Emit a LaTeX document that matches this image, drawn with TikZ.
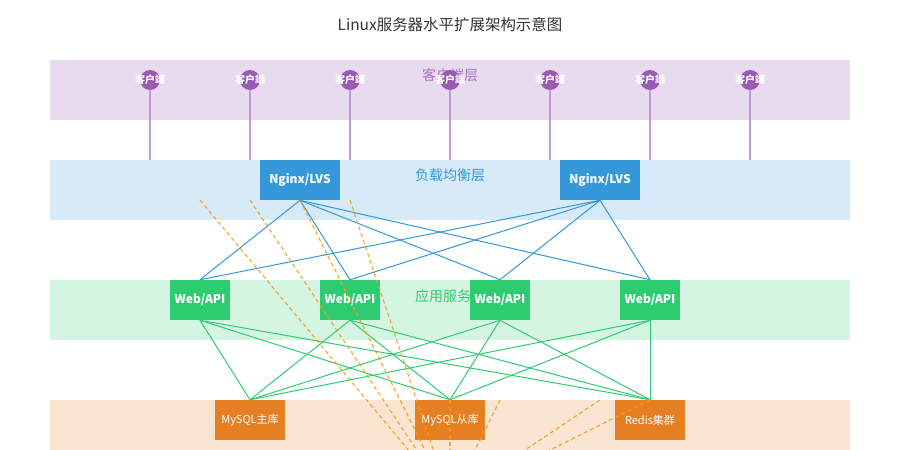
\documentclass[tikz,border=0pt]{standalone}
\usepackage{fontspec}
\setmainfont{Noto Sans CJK SC}
\usetikzlibrary{positioning}

\definecolor{clientband}{HTML}{E8DAEF}
\definecolor{lbband}{HTML}{D6EAF8}
\definecolor{appband}{HTML}{D5F5E3}
\definecolor{dbband}{HTML}{FAE5D3}
\definecolor{clientnode}{HTML}{9B59B6}
\definecolor{clientline}{HTML}{C39BD3}
\definecolor{lbnode}{HTML}{3498DB}
\definecolor{appnode}{HTML}{2ECC71}
\definecolor{dbnode}{HTML}{E67E22}
\definecolor{monline}{HTML}{F39C12}
\definecolor{titlegray}{HTML}{333333}

\begin{document}
\begin{tikzpicture}[x=0.75pt,y=-0.75pt,
	band/.style={fill=#1,draw=none},
	layerlabel/.style={font=\fontsize{10.5}{12}\selectfont,text=#1},
	client/.style={circle,fill=clientnode,minimum size=15pt,inner sep=0pt},
	clienttext/.style={text=white,font=\fontsize{7.5}{8}\selectfont\bfseries,inner sep=0pt},
	box/.style={fill=#1,minimum height=30pt,inner sep=0pt,text=white},
	lbbox/.style={box=lbnode,minimum width=60pt,font=\fontsize{9}{10}\selectfont\bfseries},
	appbox/.style={box=appnode,minimum width=45pt,font=\fontsize{9}{10}\selectfont\bfseries},
	dbbox/.style={box=dbnode,minimum width=52.5pt,font=\fontsize{8.25}{9}\selectfont},
	monitor/.style={monline,line width=0.9pt,dash pattern=on 3pt off 2.25pt,opacity=0.85}
	]

	\useasboundingbox (0,0) rectangle (900,450);
	\clip (0,0) rectangle (900,450);

	% Title
	\node[font=\fontsize{11.6}{13}\selectfont,text=titlegray] (title) at (450,25) {Linux服务器水平扩展架构示意图};

	% Layer bands
	\fill[band=clientband] (50,60) rectangle (850,120);
	\fill[band=lbband] (50,160) rectangle (850,220);
	\fill[band=appband] (50,280) rectangle (850,340);
	\fill[band=dbband] (50,400) rectangle (850,450);

	% Layer labels
	\node[layerlabel=clientnode!85] (clientlabel) at (450,75) {客户端层};
	\node[layerlabel=lbnode] (lblabel) at (450,175) {负载均衡层};
	\node[layerlabel=appnode] (applabel) at (450,296) {应用服务层};

	% Clients
	\foreach \i in {1,...,7} {
		\coordinate (top\i) at (50+100*\i,160);
		\draw[clientline,line width=1.5pt] (50+100*\i,80) -- (top\i);
		\node[client] (c\i) at (50+100*\i,80) {};
		\node[clienttext] (ct\i) at (c\i.center) {客户端};
	}

	% Load balancers
	\node[lbbox] (lb1) at (300,180) {Nginx/LVS};
	\node[lbbox] (lb2) at (600,180) {Nginx/LVS};

	% Web/API servers
	\foreach \x [count=\i] in {200,350,500,650} {
		\node[appbox] (web\i) at (\x,300) {Web/API};
	}

	% Storage
	\node[dbbox] (db1) at (250,420) {MySQL主库};
	\node[dbbox] (db2) at (450,420) {MySQL从库};
	\node[dbbox] (db3) at (650,420) {Redis集群};

	% LB -> Web
	\foreach \l in {1,2} {
		\foreach \w in {1,...,4} {
			\draw[lbnode,line width=0.75pt] (lb\l.south) -- (web\w.north);
		}
	}

	% Web -> storage
	\foreach \w in {1,...,4} {
		\foreach \d in {1,2,3} {
			\draw[appnode,line width=0.75pt] (web\w.south) -- (db\d.north);
		}
	}

	% Monitoring links
	\coordinate (mon) at (450,500);
	\foreach \x [count=\i] in {200,250,300,350} {
		\coordinate (up\i) at (\x,200);
		\draw[monitor] (up\i) -- (mon);
	}
	\foreach \x [count=\i] in {450,500,600,650} {
		\coordinate (low\i) at (\x,400);
		\draw[monitor] (low\i) -- (mon);
	}

\end{tikzpicture}
\end{document}
